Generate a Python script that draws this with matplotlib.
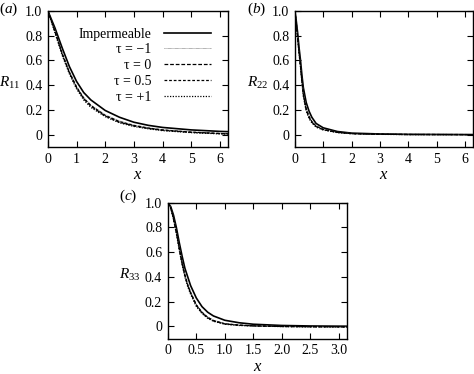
import numpy as np
import matplotlib.pyplot as plt

plt.rcParams['font.family'] = ['Liberation Serif', 'DejaVu Serif']
plt.rcParams['mathtext.fontset'] = 'custom'
plt.rcParams['mathtext.it'] = 'Liberation Serif:italic'
plt.rcParams['mathtext.rm'] = 'Liberation Serif'
plt.rcParams['font.size'] = 10

labels = ['Impermeable', 'τ = −1', 'τ = 0', 'τ = 0.5', 'τ = +1']

# R11
x11 = [0, 0.25, 0.5, 0.75, 1.0, 1.25, 1.5, 2.0, 2.5, 3.0, 3.5, 4.0, 5.0, 6.0, 6.28]
r11 = [
    [1.0, 0.86, 0.70, 0.55, 0.43, 0.34, 0.28, 0.195, 0.14, 0.10, 0.075, 0.058, 0.038, 0.026, 0.024],
    [1.0, 0.84, 0.66, 0.51, 0.39, 0.30, 0.24, 0.16, 0.11, 0.078, 0.056, 0.040, 0.022, 0.010, 0.008],
    [1.0, 0.83, 0.65, 0.50, 0.38, 0.29, 0.23, 0.15, 0.10, 0.070, 0.050, 0.035, 0.018, 0.008, 0.006],
    [1.0, 0.835, 0.655, 0.505, 0.385, 0.295, 0.235, 0.155, 0.105, 0.074, 0.053, 0.038, 0.020, 0.009, 0.007],
    [1.0, 0.82, 0.64, 0.49, 0.37, 0.28, 0.22, 0.145, 0.095, 0.066, 0.047, 0.032, 0.016, 0.006, 0.004],
]

# R22
x22 = [0, 0.05, 0.1, 0.15, 0.2, 0.25, 0.3, 0.4, 0.5, 0.6, 0.75, 1.0, 1.5, 2.0, 3.0, 4.0, 6.28]
r22 = [
    [1.0, 0.92, 0.82, 0.70, 0.60, 0.48, 0.38, 0.26, 0.19, 0.14, 0.09, 0.055, 0.025, 0.012, 0.005, 0.002, 0.0],
    [1.0, 0.91, 0.80, 0.68, 0.57, 0.45, 0.34, 0.22, 0.155, 0.11, 0.072, 0.044, 0.02, 0.009, 0.003, 0.001, 0.0],
    [1.0, 0.90, 0.78, 0.66, 0.55, 0.43, 0.32, 0.20, 0.14, 0.10, 0.065, 0.040, 0.018, 0.008, 0.003, 0.001, 0.0],
    [1.0, 0.905, 0.79, 0.67, 0.56, 0.44, 0.33, 0.21, 0.148, 0.105, 0.068, 0.042, 0.019, 0.008, 0.003, 0.001, 0.0],
    [1.0, 0.895, 0.775, 0.65, 0.54, 0.42, 0.31, 0.19, 0.13, 0.095, 0.06, 0.037, 0.016, 0.007, 0.002, 0.0, 0.0],
]

# R33
x33 = [0, 0.05, 0.1, 0.15, 0.2, 0.25, 0.3, 0.35, 0.4, 0.5, 0.6, 0.7, 0.8, 1.0, 1.25, 1.5, 2.0, 2.5, 3.14]
r33 = [
    [1.0, 0.97, 0.90, 0.80, 0.68, 0.57, 0.47, 0.40, 0.33, 0.23, 0.16, 0.115, 0.085, 0.05, 0.03, 0.018, 0.008, 0.004, 0.002],
    [1.0, 0.965, 0.88, 0.77, 0.645, 0.525, 0.425, 0.345, 0.28, 0.18, 0.118, 0.078, 0.052, 0.024, 0.012, 0.006, 0.001, -0.001, -0.002],
    [1.0, 0.96, 0.87, 0.76, 0.63, 0.51, 0.41, 0.33, 0.27, 0.17, 0.11, 0.07, 0.045, 0.02, 0.01, 0.005, 0.0, -0.002, -0.003],
    [1.0, 0.962, 0.875, 0.765, 0.637, 0.517, 0.417, 0.337, 0.275, 0.175, 0.114, 0.074, 0.048, 0.022, 0.011, 0.005, 0.0, -0.002, -0.003],
    [1.0, 0.958, 0.865, 0.75, 0.62, 0.50, 0.40, 0.32, 0.26, 0.162, 0.104, 0.066, 0.042, 0.018, 0.008, 0.004, -0.001, -0.003, -0.004],
]

styles = [
    dict(color='black', lw=1.2, ls='-'),
    dict(color='0.5', lw=0.7, ls=(0, (0.6, 0.6))),
    dict(color='black', lw=0.9, ls=(0, (3, 1.5))),
    dict(color='black', lw=0.9, ls=(0, (2.2, 1.5))),
    dict(color='black', lw=0.9, ls=(0, (1, 1.2))),
]

fig = plt.figure(figsize=(4.74, 3.74), dpi=100)
axa = fig.add_axes([0.101, 0.607, 0.380, 0.364])
axb = fig.add_axes([0.622, 0.607, 0.376, 0.364])
axc = fig.add_axes([0.354, 0.094, 0.378, 0.364])


def setup(ax, xs, ys, xmax, xticks, xticklabels, ylab, panel, panel_y):
    for y, st, lab in zip(ys, styles, labels):
        ax.plot(xs, y, label=lab, **st)
    ax.set_xlim(0, xmax)
    ax.set_ylim(-0.1, 1.0)
    ax.set_xticks(xticks)
    ax.set_xticklabels(xticklabels)
    ax.set_yticks([0, 0.2, 0.4, 0.6, 0.8, 1.0])
    ax.set_yticklabels(['0', '0.2', '0.4', '0.6', '0.8', '1.0'])
    ax.tick_params(direction='in', top=True, right=True, length=4, width=0.8,
                   labelsize=10, pad=4)
    for s in ax.spines.values():
        s.set_linewidth(1.0)
    ax.set_xlabel(r'$x$', fontsize=12, labelpad=1)
    ax.set_ylabel(ylab, fontsize=11, rotation=0)
    ax.yaxis.set_label_coords(-0.21, 0.41)
    ax.text(-0.27, panel_y, panel, transform=ax.transAxes, fontsize=11, ha='left', va='center')


setup(axa, x11, r11, 2 * np.pi, range(7), [str(i) for i in range(7)], r'$R_{11}$', r'($a$)', 1.01)
setup(axb, x22, r22, 2 * np.pi, range(7), [str(i) for i in range(7)], r'$R_{22}$', r'($b$)', 1.01)
setup(axc, x33, r33, np.pi, [0, 0.5, 1.0, 1.5, 2.0, 2.5, 3.0],
      ['0', '0.5', '1.0', '1.5', '2.0', '2.5', '3.0'], r'$R_{33}$', r'($c$)', 1.05)

axa.legend(loc='upper right', frameon=False, markerfirst=False, fontsize=10,
           handlelength=3.4, labelspacing=0.2, borderaxespad=0.9, handletextpad=0.9,
           borderpad=0.3)

fig.savefig('out.png', dpi=100)
